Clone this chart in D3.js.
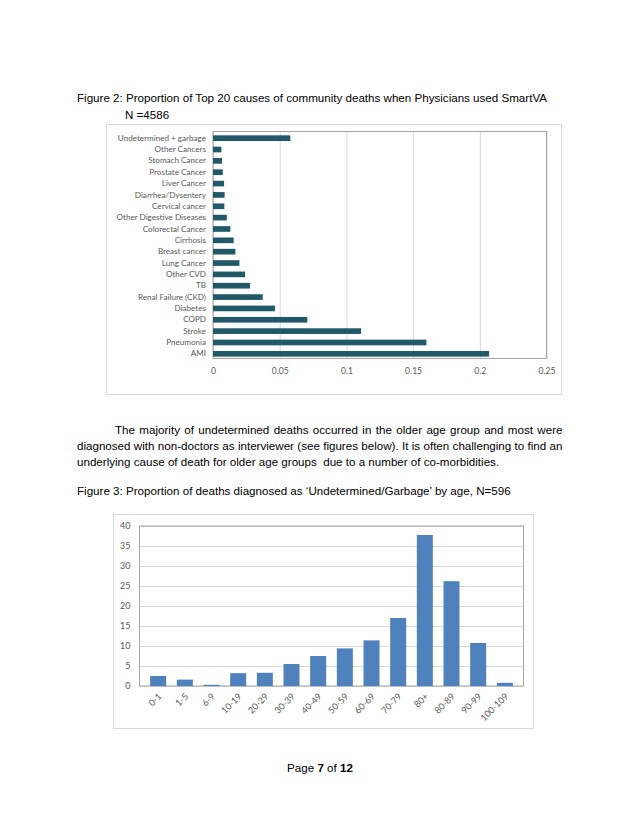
<!DOCTYPE html>
<html>
<head>
<meta charset="utf-8">
<script src="https://cdn.jsdelivr.net/npm/d3@7"></script>
<style>
  body { margin: 0; background: #fff; }
  svg text { font-family: 'Liberation Sans', Arial, sans-serif; }
  .chart text { font-family: Lato, 'Open Sans', sans-serif; }
</style>
</head>
<body>
<svg id="page" width="638" height="826"></svg>
<script>
// causes of death, top to bottom as in the figure
var causes = ['Undetermined + garbage', 'Other Cancers', 'Stomach Cancer', 'Prostate Cancer',
    'Liver Cancer', 'Diarrhea/Dysentery', 'Cervical cancer', 'Other Digestive Diseases',
    'Colorectal Cancer', 'Cirrhosis', 'Breast cancer', 'Lung Cancer', 'Other CVD', 'TB',
    'Renal Failure (CKD)', 'Diabetes', 'COPD', 'Stroke', 'Pneumonia', 'AMI'];
var proportions = [0.058, 0.0063, 0.0068, 0.0073, 0.0083, 0.0087, 0.0085, 0.0103,
    0.013, 0.0155, 0.0168, 0.0198, 0.024, 0.0278, 0.0373, 0.0465, 0.0707, 0.111, 0.160, 0.207];
var causeTicks = [0, 0.05, 0.1, 0.15, 0.2, 0.25];

// age groups for the undetermined/garbage deaths
var ageGroups = ['0-1', '1-5', '6-9', '10-19', '20-29', '30-39', '40-49', '50-59',
    '60-69', '70-79', '80+', '80-89', '90-99', '100-109'];
var agePercents = [2.5, 1.6, 0.3, 3.2, 3.3, 5.5, 7.5, 9.4, 11.4, 17, 37.75, 26.2, 10.75, 0.8];
var ageTicks = [0, 5, 10, 15, 20, 25, 30, 35, 40];

var svg = d3.select('#page');
svg.append('rect').attr('width', 638).attr('height', 826).style('fill', '#fff');

// page text
function pageText(str, x, y, size) {
    return svg.append('text').text(str)
        .attr('x', x).attr('y', y)
        .style('font-size', size + 'px')
        .style('fill', '#000');
}
pageText('Figure 2: Proportion of Top 20 causes of community deaths when Physicians used SmartVA', 77, 102, 11.6);
pageText('N =4586', 125, 119, 11.6);

// justified paragraph
function justLine(str, x, y, right) {
    var t = pageText(str, x, y, 11.6);
    var nat = t.node().getComputedTextLength();
    var gaps = str.split(' ').length - 1;
    if (right && gaps > 0) t.style('word-spacing', ((right - x - nat) / gaps) + 'px');
    return t;
}
justLine('The majority of undetermined deaths occurred in the older age group and most were', 115, 434, 562.5);
justLine('diagnosed with non-doctors as interviewer (see figures below). It is often challenging to find an', 77, 450, 562.5);
justLine('underlying cause of death for older age groups  due to a number of co-morbidities.', 77, 466, null)
    .style('white-space', 'pre');
pageText('Figure 3: Proportion of deaths diagnosed as \u2018Undetermined/Garbage\u2019 by age, N=596', 77, 495, 11.6);

var footer = pageText('', 320, 772, 11.6).attr('text-anchor', 'middle');
footer.append('tspan').text('Page ');
footer.append('tspan').text('7').style('font-weight', 700);
footer.append('tspan').text(' of ');
footer.append('tspan').text('12').style('font-weight', 700);

// ---- Figure 2: horizontal bars
(function() {
    var chart = svg.append('g').classed('chart', true);
    chart.append('rect')
        .attr('x', 106.5).attr('y', 124.5).attr('width', 455).attr('height', 270)
        .style('fill', '#fff').style('stroke', '#d9d9d9');
    var left = 213, right = 546.5, top = 131.5, bottom = 358.5;

    var xScale = d3.scaleLinear().domain([0, 0.25]).range([left, right]);
    var yScale = d3.scaleBand().domain(causes).range([top + 1, bottom + 1]).padding(0.5).paddingOuter(0.25);

    var xAxis = d3.axisBottom(xScale).tickValues(causeTicks)
        .tickSize(-(bottom - top)).tickFormat(function(d) { return d; });
    chart.append('g').attr('transform', 'translate(0,' + bottom + ')')
        .call(xAxis)
        .call(function(g) {
            g.select('.domain').remove();
            g.selectAll('line').style('stroke', '#d9d9d9');
            g.selectAll('text').attr('dy', 0).attr('y', 15)
                .style('fill', '#595959').style('font-size', '8.6px');
        });
    chart.append('rect')
        .attr('x', left).attr('y', top).attr('width', right - left).attr('height', bottom - top)
        .style('fill', 'none').style('stroke', '#a6a6a6');

    chart.selectAll('rect.bar')
        .data(proportions)
        .enter().append('rect').classed('bar', true)
        .attr('x', xScale(0))
        .attr('y', function(d, i) { return yScale(causes[i]); })
        .attr('width', function(d) { return xScale(d) - xScale(0); })
        .attr('height', yScale.bandwidth())
        .style('fill', '#215968');

    var yAxis = d3.axisLeft(yScale).tickSize(0).tickPadding(7);
    chart.append('g').attr('transform', 'translate(' + left + ',0)')
        .call(yAxis)
        .call(function(g) {
            g.select('.domain').remove();
            g.selectAll('text').style('fill', '#595959').style('font-size', '8.1px');
        });
}());

// ---- Figure 3: vertical bars by age
(function() {
    var chart = svg.append('g').classed('chart', true);
    chart.append('rect')
        .attr('x', 113.5).attr('y', 514.5).attr('width', 420).attr('height', 214)
        .style('fill', '#fff').style('stroke', '#d9d9d9');
    var left = 139.5, right = 523.5, top = 526, bottom = 686;

    var xScale = d3.scaleBand().domain(ageGroups).range([left, right]).padding(0.4);
    var yScale = d3.scaleLinear().domain([0, 40]).range([bottom, top]);

    var yAxis = d3.axisLeft(yScale).tickValues(ageTicks).tickSize(-(right - left)).tickPadding(9);
    chart.append('g').attr('transform', 'translate(' + left + ',0)')
        .call(yAxis)
        .call(function(g) {
            g.select('.domain').remove();
            g.selectAll('line').style('stroke', '#d9d9d9');
            g.selectAll('text').style('fill', '#595959').style('font-size', '9px');
        });
    chart.append('rect')
        .attr('x', left).attr('y', top).attr('width', right - left).attr('height', bottom - top)
        .style('fill', 'none').style('stroke', '#a6a6a6');

    chart.selectAll('rect.bar')
        .data(agePercents)
        .enter().append('rect').classed('bar', true)
        .attr('x', function(d, i) { return xScale(ageGroups[i]); })
        .attr('y', function(d) { return yScale(d); })
        .attr('width', xScale.bandwidth())
        .attr('height', function(d) { return yScale(0) - yScale(d); })
        .style('fill', '#4f81bd');

    var xAxis = d3.axisBottom(xScale).tickSize(0);
    chart.append('g').attr('transform', 'translate(0,' + bottom + ')')
        .call(xAxis)
        .call(function(g) {
            g.select('.domain').remove();
            g.selectAll('text')
                .attr('y', 0).attr('dy', 0)
                .attr('text-anchor', 'end')
                .attr('transform', 'translate(4,11) rotate(-45)')
                .style('fill', '#595959').style('font-size', '9px');
        });
}());
</script>
</body>
</html>
